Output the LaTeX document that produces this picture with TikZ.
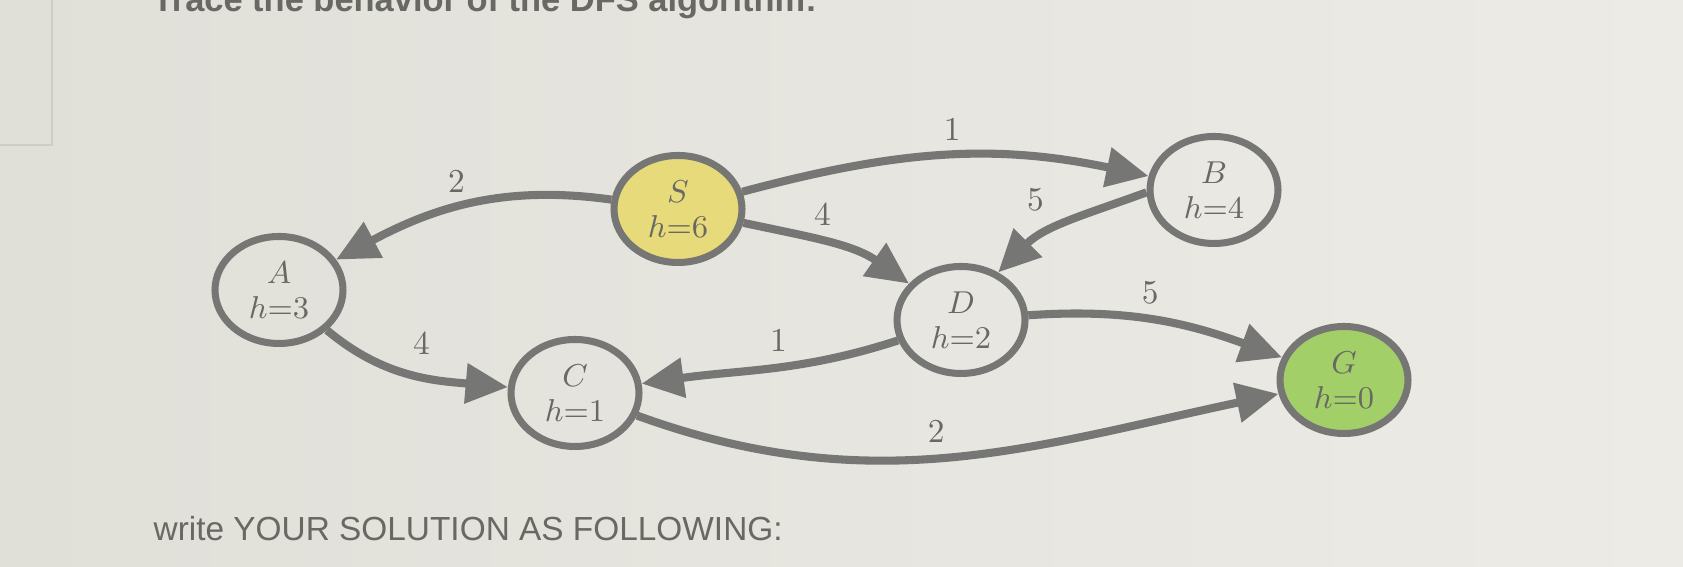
\documentclass[tikz,border=0pt]{standalone}
\usepackage{fontspec}
\newfontfamily\uifont{Liberation Sans}
\usetikzlibrary{arrows.meta,shapes.geometric}

\definecolor{bgleft}{RGB}{224,223,216}
\definecolor{bgright}{RGB}{236,235,230}
\definecolor{linegray}{RGB}{118,118,116}
\definecolor{txtgray}{RGB}{104,104,100}
\definecolor{framegray}{RGB}{205,204,198}
\definecolor{startyellow}{RGB}{231,218,122}
\definecolor{goalgreen}{RGB}{162,207,104}

\begin{document}
\begin{tikzpicture}[
    vtx/.style={ellipse, draw=linegray, line width=2pt, minimum width=1.28cm, minimum height=1.07cm,
        inner sep=0pt, align=center, text=txtgray, font=\fontsize{9.5}{10}\selectfont},
    link/.style={-{Triangle[length=12pt,width=11pt]}, draw=linegray, line width=2.3pt},
    wt/.style={text=txtgray, font=\fontsize{9.5}{10}\selectfont}
]

    \useasboundingbox (0,0) rectangle (16.83,5.67);
    \clip (0,0) rectangle (16.83,5.67);
    \shade[left color=bgleft, right color=bgright] (0,0) rectangle (16.83,5.67);

    % screen frame and text
    \draw[framegray, line width=0.8pt] (0.52,5.67) -- (0.52,4.22) -- (0,4.22);
    \node[anchor=base west, inner sep=0pt, text=txtgray, font=\uifont\bfseries\fontsize{9.8}{11}\selectfont] (title) at (1.52,5.55) {Trace the behavior of the DFS algorithm:};
    \node[anchor=base west, inner sep=0pt, text=txtgray, font=\uifont\fontsize{9.5}{11}\selectfont] (prompt) at (1.53,0.26) {write YOUR SOLUTION AS FOLLOWING:};

    % states
    \node[vtx, fill=startyellow] (S) at (6.78,3.58) {$S$\\$h{=}6$};
    \node[vtx] (A) at (2.79,2.77) {$A$\\$h{=}3$};
    \node[vtx] (B) at (12.14,3.77) {$B$\\$h{=}4$};
    \node[vtx] (D) at (9.61,2.47) {$D$\\$h{=}2$};
    \node[vtx] (C) at (5.75,1.74) {$C$\\$h{=}1$};
    \node[vtx, fill=goalgreen] (G) at (13.44,1.87) {$G$\\$h{=}0$};

    % edges
    \draw[link] (S) to[out=172,in=28] node[wt, pos=0.55, above] (wSA) {2} (A);
    \draw[link] (S) to[out=15,in=168] node[wt, pos=0.52, above] (wSB) {1} (B);
    \draw[link] (S) to[out=-12,in=145] node[wt, pos=0.45, above] (wSD) {4} (D);
    \draw[link] (B.182) to[out=200,in=45] node[wt, pos=0.55, above left] (wBD) {5} (D.52);
    \draw[link] (D) to[out=4,in=160] node[wt, pos=0.47, above] (wDG) {5} (G);
    \draw[link] (D) to[out=198,in=8] node[wt, pos=0.47, above] (wDC) {1} (C);
    \draw[link] (A) to[out=-40,in=175] node[wt, pos=0.42, above right] (wAC) {4} (C);
    \draw[link] (C) to[out=-20,in=192] node[wt, pos=0.47, above] (wCG) {2} (G);

\end{tikzpicture}
\end{document}
